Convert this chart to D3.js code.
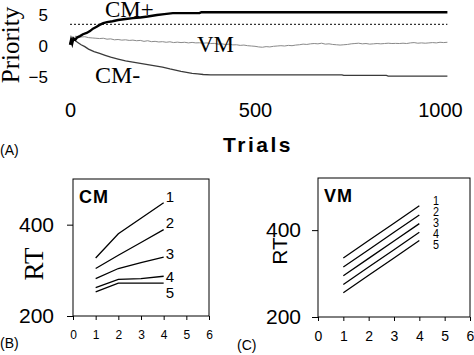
<!DOCTYPE html>
<html><head><meta charset="utf-8">
<script src="https://cdn.jsdelivr.net/npm/d3@7"></script>
<style>
body{margin:0;background:#fff;}
svg{display:block;}
.serif{font-family:"Liberation Serif","Times New Roman",serif;}
.sans{font-family:"Liberation Sans",Arial,Helvetica,sans-serif;}
</style></head>
<body>
<svg id="c" width="474" height="355"></svg>
<script>
// ---------- Panel A data: priority vs trials ----------
const trialTicks = [0, 500, 1000];
const priorityTicks = [-5, 0, 5];
const threshold = 3.5;
const cmPlus = [[0,0.2],[3,1.0],[6,0.4],[9,1.2],[14,1.0],[20,1.4],[27,1.6],[35,1.9],[45,2.1],[54,2.4],[62,2.8],[72,3.1],[80,3.4],[90,3.7],[100,3.85],[115,4.0],[130,4.2],[150,4.35],[170,4.5],[190,4.6],[210,4.75],[235,5.0],[255,5.15],[278,5.3],[350,5.3],[355,5.45],[1020,5.45]];
const cmMinus = [[0,0.3],[4,1.1],[8,0.8],[12,1.0],[20,0.6],[30,0.2],[40,-0.1],[50,-0.5],[65,-0.9],[80,-1.2],[95,-1.5],[110,-1.8],[130,-2.1],[150,-2.4],[170,-2.6],[190,-2.8],[210,-3.0],[230,-3.2],[250,-3.4],[270,-3.7],[285,-3.9],[300,-4.1],[315,-4.25],[330,-4.4],[345,-4.5],[360,-4.6],[380,-4.65],[735,-4.65],[740,-4.75],[855,-4.75],[860,-4.85],[1020,-4.85]];
const vm = [[0,0.2],[3,1.2],[6,0.6],[9,1.5],[12,1.0],[15,1.6],[20,1.5],[30,1.45],[40,1.5],[50,1.35],[60,1.3],[70,1.25],[80,1.2],[90,1.25],[100,1.1],[110,1.15],[120,1.0],[130,1.05],[140,0.95],[150,1.0],[160,0.9],[170,0.95],[180,0.85],[190,0.9],[200,0.75],[210,0.85],[220,0.7],[230,0.75],[240,0.65],[250,0.7],[260,0.6],[270,0.68],[280,0.55],[290,0.62],[300,0.55],[310,0.6],[320,0.5],[330,0.58],[340,0.5],[350,0.52],[360,0.45],[370,0.5],[380,0.4],[390,0.42],[400,0.3],[410,0.35],[420,0.25],[430,0.3],[440,0.18],[450,0.2],[460,0.1],[470,0.15],[480,0.05],[490,0.0],[500,-0.05],[510,-0.15],[520,-0.2],[530,-0.1],[540,-0.15],[550,-0.05],[560,0.0],[570,0.05],[580,0.0],[590,0.1],[600,0.05],[610,0.15],[620,0.2],[630,0.3],[640,0.25],[650,0.35],[660,0.4],[670,0.35],[680,0.45],[690,0.3],[700,0.35],[710,0.25],[720,0.2],[730,0.15],[740,0.2],[750,0.25],[760,0.35],[770,0.4],[780,0.45],[790,0.35],[800,0.4],[810,0.3],[820,0.35],[830,0.4],[840,0.35],[850,0.4],[860,0.45],[870,0.4],[880,0.42],[890,0.4],[900,0.45],[910,0.4],[920,0.5],[930,0.55],[940,0.45],[950,0.5],[960,0.45],[970,0.5],[980,0.55],[990,0.5],[1000,0.6],[1010,0.55],[1020,0.6]];

// ---------- Panels B, C data: RT vs x ----------
const xTicksBC = [0,1,2,3,4,5,6];
const rtTicks = [200, 400];
const setSizes = [1,2,3,4];
const lineLabels = ["1","2","3","4","5"];
const cmRT = [
  [327, 380, 414, 448],
  [304, 333, 361, 389],
  [282, 304, 317, 329],
  [262, 280, 282, 287],
  [253, 272, 272, 272]
];
const vmRT = [
  [336, 376, 416, 456],
  [315, 355, 395, 435],
  [295, 335, 375, 415],
  [275, 315, 355, 395],
  [256, 296, 336, 376]
];

const svg = d3.select("#c");

// ---------- Panel A ----------
const xA = d3.scaleLinear().domain([0,1000]).range([70,440]);
const yA = d3.scaleLinear().domain([-5,5]).range([77,15]);
const lineA = d3.line().x(d=>xA(d[0])).y(d=>yA(d[1]));

svg.append("line")
  .attr("x1", xA(0)).attr("x2", xA(1020))
  .attr("y1", yA(threshold)).attr("y2", yA(threshold))
  .attr("stroke","#000").attr("stroke-width",1).attr("stroke-dasharray","2,2");
svg.append("path").datum(vm).attr("d",lineA).attr("fill","none").attr("stroke","#8a8a8a").attr("stroke-width",1);
svg.append("path").datum(cmMinus).attr("d",lineA).attr("fill","none").attr("stroke","#3a3a3a").attr("stroke-width",1.3);
svg.append("path").datum(cmPlus).attr("d",lineA).attr("fill","none").attr("stroke","#000").attr("stroke-width",2.4);

const axA = svg.append("g").attr("transform","translate(0,100)").attr("class","sans")
  .call(d3.axisBottom(xA).tickValues(trialTicks).tickSize(0).tickPadding(3).tickFormat(d3.format("d")));
axA.select(".domain").remove();
axA.selectAll("text").attr("font-size",20).attr("font-family","Liberation Sans, Arial, sans-serif").attr("fill","#000");

const ayA = svg.append("g").attr("transform","translate(70,0)")
  .call(d3.axisLeft(yA).tickValues(priorityTicks).tickSize(0).tickPadding(22));
ayA.select(".domain").remove();
ayA.selectAll("text").attr("font-size",17).attr("font-family","Liberation Sans, Arial, sans-serif").attr("fill","#000");

svg.append("text").attr("class","serif").attr("font-size",25)
  .attr("transform","translate(19,45) rotate(-90)").attr("text-anchor","middle").text("Priority");
svg.append("text").attr("class","serif").attr("font-size",23).attr("x",105).attr("y",17).text("CM+");
svg.append("text").attr("class","serif").attr("font-size",23).attr("x",197).attr("y",52).text("VM");
svg.append("text").attr("class","serif").attr("font-size",24).attr("x",95).attr("y",83).text("CM-");
svg.append("text").attr("class","sans").attr("font-size",21).attr("font-weight","bold")
  .attr("letter-spacing",2.5).attr("x",258).attr("y",152).attr("text-anchor","middle").text("Trials");
svg.append("text").attr("class","sans").attr("font-size",14).attr("x",0).attr("y",155).text("(A)");

// ---------- Panels B and C ----------
function panel(opt){
  const x = d3.scaleLinear().domain([0,6]).range([opt.x0,opt.x1]);
  const y = d3.scaleLinear().domain(opt.yDom).range([opt.y1,opt.y0]);
  const g = svg.append("g");
  g.append("rect").attr("x",opt.x0).attr("y",opt.y0).attr("width",opt.x1-opt.x0).attr("height",opt.y1-opt.y0)
    .attr("fill","none").attr("stroke","#000").attr("stroke-width",1);
  const ax = g.append("g").attr("transform",`translate(0,${opt.y1})`)
    .call(d3.axisBottom(x).tickValues(xTicksBC).tickSize(4).tickSizeOuter(0).tickPadding(opt.xPad).tickFormat(d3.format("d")));
  ax.select(".domain").remove();
  ax.selectAll("text").attr("font-size",opt.xFont).attr("font-family","Liberation Sans, Arial, sans-serif").attr("fill","#000");
  const ay = g.append("g").attr("transform",`translate(${opt.x0},0)`)
    .call(d3.axisLeft(y).tickValues(rtTicks).tickSize(6).tickSizeOuter(0).tickPadding(opt.yPad));
  ay.select(".domain").remove();
  ay.selectAll("text").attr("font-size",21).attr("font-family","Liberation Sans, Arial, sans-serif").attr("fill","#000");
  const ln = d3.line().x((d,i)=>x(setSizes[i])).y(d=>y(d));
  opt.data.forEach(s=>{
    g.append("path").datum(s).attr("d",ln).attr("fill","none").attr("stroke","#000").attr("stroke-width",1.3);
  });
  g.append("text").attr("class","sans").attr("font-weight","bold").attr("font-size",18).attr("letter-spacing",1)
    .attr("x",opt.x0+6).attr("y",opt.y0+24).text(opt.title);
  return {x,y,g};
}

const B = panel({x0:73,x1:209,y0:179,y1:316,yDom:[200,500],data:cmRT,title:"CM",xPad:10,xFont:12,yPad:13});
const bLabelY = [197, 222.5, 254, 277, 293];
lineLabels.forEach((t,i)=>{
  B.g.append("text").attr("class","sans").attr("font-size",15).attr("x",170).attr("y",bLabelY[i])
    .attr("dy","0.35em").attr("text-anchor","middle").text(t);
});
svg.append("text").attr("class","serif").attr("font-size",27)
  .attr("transform","translate(43,264) rotate(-90)").attr("text-anchor","middle").text("RT");
svg.append("text").attr("class","sans").attr("font-size",14).attr("x",0).attr("y",348).text("(B)");

const C = panel({x0:318,x1:470,y0:178,y1:317,yDom:[200,520],data:vmRT,title:"VM",xPad:10,xFont:14,yPad:11});
const cLabelY = [200.5, 211.5, 222.5, 234, 245];
lineLabels.forEach((t,i)=>{
  C.g.append("text").attr("class","sans").attr("font-size",12).attr("x",436).attr("y",cLabelY[i])
    .attr("dy","0.35em").attr("text-anchor","middle")
    .attr("transform",`translate(436,0) scale(0.9,1) translate(-436,0)`).text(t);
});
svg.append("text").attr("class","sans").attr("font-size",21)
  .attr("transform","translate(287,251) rotate(-90)").attr("text-anchor","middle").text("RT");
svg.append("text").attr("class","sans").attr("font-size",14).attr("x",237).attr("y",350).text("(C)");
</script>
</body></html>
